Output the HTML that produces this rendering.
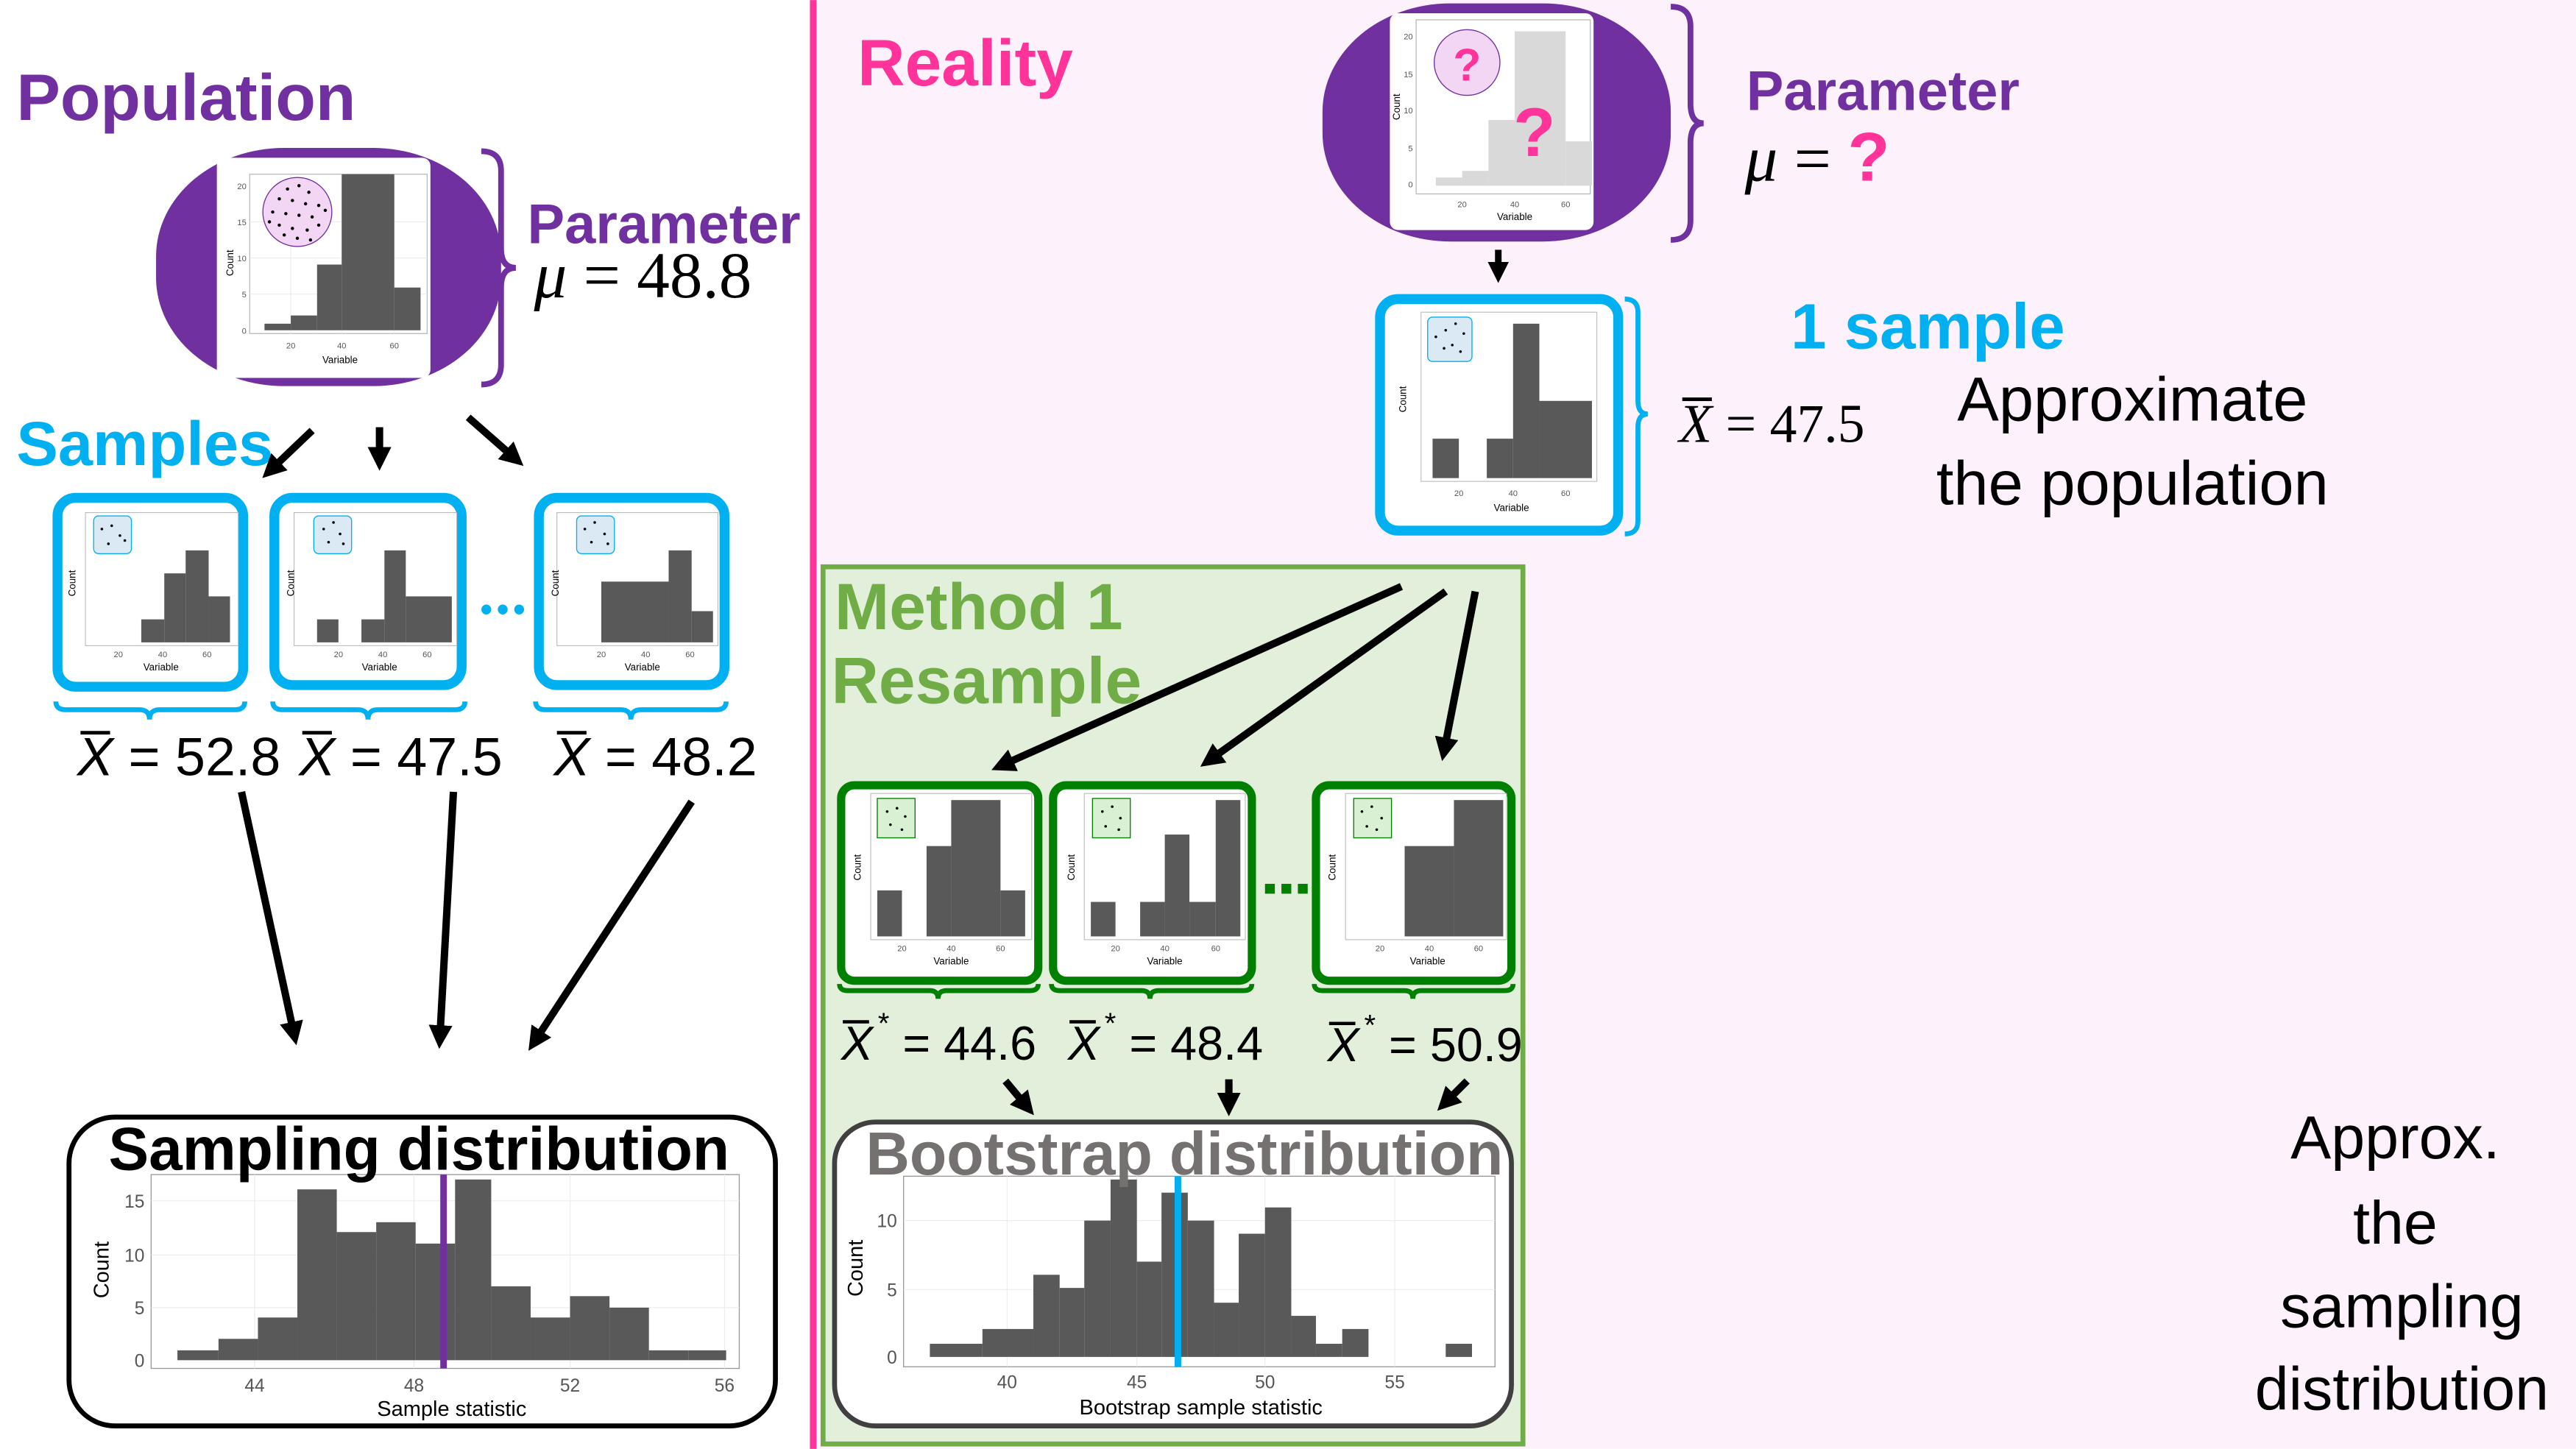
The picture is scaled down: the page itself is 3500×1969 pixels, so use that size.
<!DOCTYPE html>
<html><head><meta charset="utf-8"><style>
html,body{margin:0;padding:0;background:#fff}
svg{display:block}
text{font-family:"Liberation Sans",sans-serif}
.t{font-family:"Liberation Sans",sans-serif;font-weight:bold}
.m{font-family:"Liberation Serif",serif}
.ax{font-size:5px;fill:#555}
.axl{font-size:6px;fill:#000}
.bar{fill:#595959}
.grid{stroke:#ebebeb;stroke-width:0.5}
</style></head><body>
<svg width="3500" height="1969" viewBox="0 0 1568 882" xmlns="http://www.w3.org/2000/svg">
<defs>
<marker id="ah" viewBox="0 0 10 10" refX="2" refY="5" markerWidth="3.2" markerHeight="3.2" orient="auto"><path d="M0,0 L10,5 L0,10 z" fill="#000"/></marker>
</defs>
<rect x="0" y="0" width="1568" height="882" fill="#fff"/>
<rect x="495" y="0" width="1073" height="882" fill="#fdf2fc"/>
<rect x="493" y="0" width="4" height="882" fill="#ff3399"/>

<!-- LEFT -->
<text x="10" y="73" class="t" font-size="40" fill="#7030a0">Population</text>
<rect x="95" y="90" width="210" height="145" rx="78" ry="66" fill="#7030a0"/>
<rect x="132" y="96" width="130" height="134" rx="5" fill="#fff"/>
<rect x="152" y="106" width="108" height="97" fill="#fff" stroke="#bbb" stroke-width="0.6"/>
<g class="grid"><line x1="177" y1="106" x2="177" y2="203"/><line x1="208" y1="106" x2="208" y2="203"/><line x1="240" y1="106" x2="240" y2="203"/><line x1="152" y1="157" x2="260" y2="157"/><line x1="152" y1="135" x2="260" y2="135"/><line x1="152" y1="179" x2="260" y2="179"/></g>
<rect class="bar" x="161" y="197" width="16" height="4"/><rect class="bar" x="177" y="192" width="16" height="9"/><rect class="bar" x="193" y="161" width="15" height="40"/><rect class="bar" x="208" y="106" width="32" height="95"/><rect class="bar" x="240" y="175" width="16" height="26"/>
<circle cx="181" cy="129" r="21" fill="#f3d6f3" stroke="#7030a0" stroke-width="0.6"/>
<g fill="#000"><circle cx="175" cy="115" r="1"/><circle cx="182" cy="113" r="1"/><circle cx="188" cy="117" r="1"/><circle cx="170" cy="121" r="1"/><circle cx="178" cy="122" r="1"/><circle cx="186" cy="124" r="1"/><circle cx="194" cy="125" r="1"/><circle cx="166" cy="129" r="1"/><circle cx="174" cy="130" r="1"/><circle cx="182" cy="131" r="1"/><circle cx="190" cy="132" r="1"/><circle cx="198" cy="128" r="1"/><circle cx="170" cy="137" r="1"/><circle cx="178" cy="139" r="1"/><circle cx="187" cy="140" r="1"/><circle cx="194" cy="137" r="1"/><circle cx="181" cy="145" r="1"/><circle cx="173" cy="143" r="1"/><circle cx="189" cy="146" r="1"/><circle cx="164" cy="135" r="1"/></g>
<text x="142" y="160" class="axl" transform="rotate(-90 142 160)" text-anchor="middle">Count</text>
<text x="207" y="221" class="axl" text-anchor="middle">Variable</text>
<text x="177" y="212" class="ax" text-anchor="middle">20</text><text x="208" y="212" class="ax" text-anchor="middle">40</text><text x="240" y="212" class="ax" text-anchor="middle">60</text>
<g class="ax" text-anchor="end"><text x="150" y="203">0</text><text x="150" y="181">5</text><text x="150" y="159">10</text><text x="150" y="137">15</text><text x="150" y="115">20</text></g>
<path d="M293,92 Q305,92 305,104 L305,151 Q305,163 314,163 Q305,163 305,175 L305,222 Q305,234 293,234" fill="none" stroke="#7030a0" stroke-width="3.5"/>
<text x="321" y="148" class="t" font-size="34" fill="#7030a0">Parameter</text>
<text x="325" y="181" class="m" font-size="40"><tspan font-style="italic">μ</tspan> = 48.8</text>

<text x="10" y="283" class="t" font-size="38" fill="#00b0f0">Samples</text>
<g stroke="#000" stroke-width="4.5" marker-end="url(#ah)">
<line x1="190" y1="262" x2="168" y2="283"/><line x1="231" y1="260" x2="231" y2="275"/><line x1="285" y1="254" x2="310" y2="276"/>
<line x1="147" y1="482" x2="178" y2="625"/><line x1="276" y1="482" x2="268" y2="627"/><line x1="421" y1="488" x2="328" y2="630"/>
</g>

<!-- sample boxes -->
<g fill="#fff" stroke="#00b0f0" stroke-width="6"><rect x="35" y="303" width="113" height="115" rx="11"/><rect x="167" y="303" width="114" height="114" rx="11"/><rect x="328" y="303" width="113" height="114" rx="11"/></g>
<g fill="#fff" stroke="#bbb" stroke-width="0.5"><rect x="52" y="312" width="93" height="81"/><rect x="179" y="312" width="99" height="81"/><rect x="339" y="312" width="98" height="81"/></g>
<rect class="bar" x="86" y="377" width="14" height="14"/><rect class="bar" x="100" y="349" width="13" height="42"/><rect class="bar" x="113" y="335" width="14" height="56"/><rect class="bar" x="127" y="363" width="13" height="28"/>
<rect class="bar" x="193" y="377" width="13" height="14"/><rect class="bar" x="220" y="377" width="14" height="14"/><rect class="bar" x="234" y="335" width="13" height="56"/><rect class="bar" x="247" y="363" width="28" height="28"/>
<rect class="bar" x="366" y="354" width="41" height="37"/><rect class="bar" x="407" y="335" width="14" height="56"/><rect class="bar" x="421" y="372" width="13" height="19"/>
<g fill="#dbe9f5" stroke="#00b0f0" stroke-width="0.6"><rect x="57" y="314" width="23" height="23" rx="3"/><rect x="191" y="314" width="23" height="23" rx="3"/><rect x="351" y="314" width="23" height="23" rx="3"/></g>
<g fill="#000"><circle cx="62" cy="322" r="0.8"/><circle cx="68" cy="320" r="0.8"/><circle cx="73" cy="326" r="0.8"/><circle cx="66" cy="331" r="0.8"/><circle cx="76" cy="329" r="0.8"/><circle cx="197" cy="322" r="0.8"/><circle cx="203" cy="318" r="0.8"/><circle cx="207" cy="325" r="0.8"/><circle cx="200" cy="330" r="0.8"/><circle cx="209" cy="331" r="0.8"/><circle cx="356" cy="322" r="0.8"/><circle cx="362" cy="318" r="0.8"/><circle cx="368" cy="325" r="0.8"/><circle cx="360" cy="330" r="0.8"/><circle cx="370" cy="331" r="0.8"/></g>
<g class="ax" font-size="4" text-anchor="middle"><text x="72" y="400">20</text><text x="99" y="400">40</text><text x="126" y="400">60</text><text x="206" y="400">20</text><text x="233" y="400">40</text><text x="260" y="400">60</text><text x="366" y="400">20</text><text x="393" y="400">40</text><text x="420" y="400">60</text></g>
<g class="axl" font-size="5"><text x="98" y="408" text-anchor="middle">Variable</text><text x="231" y="408" text-anchor="middle">Variable</text><text x="391" y="408" text-anchor="middle">Variable</text>
<text x="46" y="355" transform="rotate(-90 46 355)" text-anchor="middle">Count</text><text x="179" y="355" transform="rotate(-90 179 355)" text-anchor="middle">Count</text><text x="340" y="355" transform="rotate(-90 340 355)" text-anchor="middle">Count</text></g>
<g fill="#00b0f0"><circle cx="296" cy="371" r="3"/><circle cx="306" cy="371" r="3"/><circle cx="316" cy="371" r="3"/></g>
<g fill="none" stroke="#00b0f0" stroke-width="3"><path d="M34,427 Q34,432 40,432 L85,432 Q91,432 91,438 Q91,432 97,432 L143,432 Q149,432 149,427"/><path d="M166,427 Q166,432 172,432 L218,432 Q224,432 224,438 Q224,432 230,432 L277,432 Q283,432 283,427"/><path d="M326,427 Q326,432 332,432 L378,432 Q384,432 384,438 Q384,432 390,432 L436,432 Q442,432 442,427"/></g>
<g class="m" font-size="33">
<text x="47" y="472"><tspan font-style="italic">X</tspan> = 52.8</text><line x1="49" y1="446" x2="67" y2="446" stroke="#000" stroke-width="2.2"/>
<text x="182" y="472"><tspan font-style="italic">X</tspan> = 47.5</text><line x1="184" y1="446" x2="202" y2="446" stroke="#000" stroke-width="2.2"/>
<text x="337" y="472"><tspan font-style="italic">X</tspan> = 48.2</text><line x1="339" y1="446" x2="357" y2="446" stroke="#000" stroke-width="2.2"/>
</g>

<!-- sampling distribution -->
<rect x="42" y="680" width="430" height="188" rx="28" fill="#fff" stroke="#000" stroke-width="3"/>
<rect x="92" y="715" width="358" height="118" fill="#fff" stroke="#999" stroke-width="0.6"/>
<g class="grid"><line x1="155" y1="715" x2="155" y2="833"/><line x1="252" y1="715" x2="252" y2="833"/><line x1="347" y1="715" x2="347" y2="833"/><line x1="441" y1="715" x2="441" y2="833"/><line x1="92" y1="796" x2="450" y2="796"/><line x1="92" y1="764" x2="450" y2="764"/><line x1="92" y1="731" x2="450" y2="731"/></g>
<g class="bar"><rect x="108" y="822" width="25" height="6"/><rect x="133" y="815" width="24" height="13"/><rect x="157" y="802" width="24" height="26"/><rect x="181" y="724" width="24" height="104"/><rect x="205" y="750" width="24" height="78"/><rect x="229" y="744" width="24" height="84"/><rect x="253" y="757" width="24" height="71"/><rect x="277" y="718" width="22" height="110"/><rect x="299" y="783" width="24" height="45"/><rect x="323" y="802" width="24" height="26"/><rect x="347" y="789" width="24" height="39"/><rect x="371" y="796" width="24" height="32"/><rect x="395" y="822" width="24" height="6"/><rect x="419" y="822" width="23" height="6"/></g>
<rect x="268" y="715" width="4" height="118" fill="#7030a0"/>
<text x="66" y="712" class="t" font-size="37" fill="#000" textLength="378" lengthAdjust="spacingAndGlyphs">Sampling distribution</text>
<g font-size="11" fill="#555" text-anchor="end"><text x="88" y="832">0</text><text x="88" y="800">5</text><text x="88" y="768">10</text><text x="88" y="735">15</text></g>
<g font-size="11" fill="#555" text-anchor="middle"><text x="155" y="847">44</text><text x="252" y="847">48</text><text x="347" y="847">52</text><text x="441" y="847">56</text></g>
<text x="275" y="862" font-size="13" text-anchor="middle">Sample statistic</text>
<text x="66" y="773" font-size="13" transform="rotate(-90 66 773)" text-anchor="middle">Count</text>

<!-- RIGHT -->
<text x="522" y="52" class="t" font-size="40" fill="#ff3399">Reality</text>
<rect x="805" y="2" width="212" height="145" rx="78" ry="66" fill="#7030a0"/>
<rect x="846" y="8" width="124" height="132" rx="5" fill="#fff"/>
<rect x="862" y="12" width="106" height="106" fill="#fff" stroke="#bbb" stroke-width="0.6"/>
<g fill="#d9d9d9"><rect x="874" y="108" width="16" height="5"/><rect x="890" y="104" width="16" height="9"/><rect x="906" y="73" width="16" height="40"/><rect x="922" y="19" width="31" height="94"/><rect x="953" y="86" width="16" height="27"/></g>
<circle cx="893" cy="38" r="20" fill="#f3d6f3" stroke="#7030a0" stroke-width="0.6"/>
<text x="893" y="49" class="t" font-size="28" fill="#ff3399" text-anchor="middle">?</text>
<text x="934" y="95" class="t" font-size="42" fill="#ff3399" text-anchor="middle">?</text>
<g class="ax" text-anchor="end"><text x="860" y="114">0</text><text x="860" y="92">5</text><text x="860" y="69">10</text><text x="860" y="47">15</text><text x="860" y="24">20</text></g>
<text x="852" y="65" class="axl" transform="rotate(-90 852 65)" text-anchor="middle">Count</text>
<text x="922" y="134" class="axl" text-anchor="middle">Variable</text>
<text x="890" y="126" class="ax" text-anchor="middle">20</text><text x="922" y="126" class="ax" text-anchor="middle">40</text><text x="953" y="126" class="ax" text-anchor="middle">60</text>
<path d="M1017,4 Q1029,4 1029,16 L1029,63 Q1029,75 1037,75 Q1029,75 1029,87 L1029,134 Q1029,146 1017,146" fill="none" stroke="#7030a0" stroke-width="3.5"/>
<text x="1063" y="67" class="t" font-size="34" fill="#7030a0">Parameter</text>
<text x="1062" y="110" class="m" font-size="40"><tspan font-style="italic">μ</tspan> = <tspan class="t" fill="#ff3399" font-size="42">?</tspan></text>
<line x1="912" y1="152" x2="912" y2="162" stroke="#000" stroke-width="4" marker-end="url(#ah)"/>

<rect x="840" y="182" width="145" height="141" rx="11" fill="#fff" stroke="#00b0f0" stroke-width="6"/>
<rect x="865" y="190" width="107" height="103" fill="#fff" stroke="#bbb" stroke-width="0.5"/>
<g class="bar"><rect x="872" y="267" width="16" height="24"/><rect x="905" y="267" width="16" height="24"/><rect x="921" y="197" width="16" height="94"/><rect x="937" y="244" width="32" height="47"/></g>
<rect x="869" y="193" width="27" height="27" rx="3" fill="#dbe9f5" stroke="#00b0f0" stroke-width="0.6"/>
<g fill="#000"><circle cx="874" cy="205" r="0.8"/><circle cx="880" cy="201" r="0.8"/><circle cx="886" cy="197" r="0.8"/><circle cx="891" cy="203" r="0.8"/><circle cx="884" cy="210" r="0.8"/><circle cx="889" cy="214" r="0.8"/><circle cx="879" cy="212" r="0.8"/></g>
<g class="ax" text-anchor="middle"><text x="888" y="302">20</text><text x="921" y="302">40</text><text x="953" y="302">60</text></g>
<text x="856" y="243" class="axl" transform="rotate(-90 856 243)" text-anchor="middle">Count</text>
<text x="920" y="311" class="axl" text-anchor="middle">Variable</text>
<path d="M989,182 Q997,182 997,190 L997,244 Q997,252 1003,252 Q997,252 997,260 L997,317 Q997,325 989,325" fill="none" stroke="#00b0f0" stroke-width="3"/>
<text x="1090" y="212" class="t" font-size="39" fill="#00b0f0">1 sample</text>
<text x="1022" y="269" class="m" font-size="33"><tspan font-style="italic">X</tspan> = 47.5</text>
<line x1="1024" y1="243" x2="1042" y2="243" stroke="#000" stroke-width="2.2"/>
<text x="1298" y="256" font-size="38" text-anchor="middle">Approximate</text>
<text x="1298" y="307" font-size="38" text-anchor="middle">the population</text>

<!-- Method 1 -->
<rect x="501" y="345" width="426" height="534" fill="#e2efda" stroke="#70ad47" stroke-width="3"/>
<text x="508" y="383" class="t" font-size="40" fill="#70ad47">Method 1</text>
<text x="506" y="428" class="t" font-size="40" fill="#70ad47">Resample</text>
<g stroke="#000" stroke-width="4.5" marker-end="url(#ah)">
<line x1="853" y1="357" x2="614" y2="464"/><line x1="880" y1="360" x2="740" y2="460"/><line x1="898" y1="360" x2="880" y2="452"/>
<line x1="612" y1="658" x2="622" y2="670"/><line x1="748" y1="657" x2="748" y2="668"/><line x1="893" y1="658" x2="883" y2="668"/>
</g>
<g fill="#fff" stroke="#008000" stroke-width="5"><rect x="512" y="478" width="120" height="119" rx="8"/><rect x="641" y="478" width="121" height="119" rx="8"/><rect x="801" y="478" width="119" height="119" rx="8"/></g>
<g fill="#fff" stroke="#bbb" stroke-width="0.5"><rect x="530" y="483" width="98" height="89"/><rect x="660" y="483" width="98" height="89"/><rect x="819" y="483" width="98" height="89"/></g>
<g class="bar">
<rect x="534" y="542" width="15" height="28"/><rect x="564" y="515" width="15" height="55"/><rect x="579" y="487" width="30" height="83"/><rect x="609" y="542" width="15" height="28"/>
<rect x="664" y="549" width="15" height="21"/><rect x="694" y="549" width="15" height="21"/><rect x="709" y="508" width="15" height="62"/><rect x="724" y="549" width="16" height="21"/><rect x="740" y="487" width="15" height="83"/>
<rect x="855" y="515" width="30" height="55"/><rect x="885" y="487" width="30" height="83"/></g>
<g fill="#d9f0d3" stroke="#008000" stroke-width="0.6"><rect x="534" y="486" width="23" height="24"/><rect x="665" y="486" width="23" height="24"/><rect x="824" y="486" width="23" height="24"/></g>
<g fill="#000"><circle cx="540" cy="494" r="0.8"/><circle cx="546" cy="492" r="0.8"/><circle cx="551" cy="497" r="0.8"/><circle cx="542" cy="502" r="0.8"/><circle cx="549" cy="505" r="0.8"/><circle cx="671" cy="494" r="0.8"/><circle cx="677" cy="491" r="0.8"/><circle cx="682" cy="498" r="0.8"/><circle cx="673" cy="503" r="0.8"/><circle cx="681" cy="505" r="0.8"/><circle cx="829" cy="494" r="0.8"/><circle cx="835" cy="491" r="0.8"/><circle cx="841" cy="498" r="0.8"/><circle cx="832" cy="503" r="0.8"/><circle cx="838" cy="505" r="0.8"/></g>
<g class="ax" font-size="4" text-anchor="middle"><text x="549" y="579">20</text><text x="579" y="579">40</text><text x="609" y="579">60</text><text x="679" y="579">20</text><text x="709" y="579">40</text><text x="740" y="579">60</text><text x="840" y="579">20</text><text x="870" y="579">40</text><text x="900" y="579">60</text></g>
<g class="axl" font-size="5"><text x="579" y="587" text-anchor="middle">Variable</text><text x="709" y="587" text-anchor="middle">Variable</text><text x="869" y="587" text-anchor="middle">Variable</text>
<text x="524" y="528" transform="rotate(-90 524 528)" text-anchor="middle">Count</text><text x="654" y="528" transform="rotate(-90 654 528)" text-anchor="middle">Count</text><text x="813" y="528" transform="rotate(-90 813 528)" text-anchor="middle">Count</text></g>
<g fill="#008000"><rect x="770" y="538" width="6" height="6"/><rect x="780" y="538" width="6" height="6"/><rect x="790" y="538" width="6" height="6"/></g>
<g fill="none" stroke="#008000" stroke-width="3"><path d="M511,599 Q511,603 516,603 L566,603 Q571,603 571,608 Q571,603 576,603 L627,603 Q632,603 632,599"/><path d="M640,599 Q640,603 645,603 L695,603 Q700,603 700,608 Q700,603 705,603 L757,603 Q762,603 762,599"/><path d="M800,599 Q800,603 805,603 L855,603 Q860,603 860,608 Q860,603 865,603 L916,603 Q921,603 921,599"/></g>
<g class="m" font-size="29">
<text x="512" y="645"><tspan font-style="italic">X</tspan><tspan dx="3" dy="-16" font-size="18">*</tspan><tspan dy="16"> = 44.6</tspan></text><line x1="513" y1="622" x2="529" y2="622" stroke="#000" stroke-width="2"/>
<text x="650" y="645"><tspan font-style="italic">X</tspan><tspan dx="3" dy="-16" font-size="18">*</tspan><tspan dy="16"> = 48.4</tspan></text><line x1="651" y1="622" x2="667" y2="622" stroke="#000" stroke-width="2"/>
<text x="808" y="646"><tspan font-style="italic">X</tspan><tspan dx="3" dy="-16" font-size="18">*</tspan><tspan dy="16"> = 50.9</tspan></text><line x1="809" y1="623" x2="825" y2="623" stroke="#000" stroke-width="2"/>
</g>

<rect x="508" y="683" width="412" height="185" rx="25" fill="#fff" stroke="#404040" stroke-width="3"/>
<rect x="550" y="716" width="360" height="116" fill="#fff" stroke="#999" stroke-width="0.6"/>
<g class="grid"><line x1="613" y1="716" x2="613" y2="832"/><line x1="692" y1="716" x2="692" y2="832"/><line x1="770" y1="716" x2="770" y2="832"/><line x1="849" y1="716" x2="849" y2="832"/><line x1="550" y1="785" x2="910" y2="785"/><line x1="550" y1="743" x2="910" y2="743"/></g>
<g class="bar"><rect x="566" y="818" width="32" height="8"/><rect x="598" y="809" width="31" height="17"/><rect x="629" y="776" width="16" height="50"/><rect x="645" y="784" width="15" height="42"/><rect x="660" y="743" width="16" height="83"/><rect x="676" y="718" width="16" height="108"/><rect x="692" y="768" width="15" height="58"/><rect x="707" y="726" width="16" height="100"/><rect x="723" y="743" width="16" height="83"/><rect x="739" y="793" width="15" height="33"/><rect x="754" y="751" width="16" height="75"/><rect x="770" y="735" width="16" height="91"/><rect x="786" y="801" width="15" height="25"/><rect x="801" y="818" width="16" height="8"/><rect x="817" y="809" width="16" height="17"/><rect x="880" y="818" width="16" height="8"/></g>
<rect x="715" y="716" width="4" height="116" fill="#00b0f0"/>
<text x="527" y="715" class="t" font-size="37" fill="#767171" textLength="388" lengthAdjust="spacingAndGlyphs">Bootstrap distribution</text>
<g font-size="11" fill="#555" text-anchor="end"><text x="546" y="830">0</text><text x="546" y="789">5</text><text x="546" y="747">10</text></g>
<g font-size="11" fill="#555" text-anchor="middle"><text x="613" y="845">40</text><text x="692" y="845">45</text><text x="770" y="845">50</text><text x="849" y="845">55</text></g>
<text x="731" y="861" font-size="13" text-anchor="middle">Bootstrap sample statistic</text>
<text x="525" y="772" font-size="13" transform="rotate(-90 525 772)" text-anchor="middle">Count</text>

<g font-size="37" text-anchor="middle"><text x="1458" y="705">Approx.</text><text x="1458" y="757">the</text><text x="1462" y="808">sampling</text><text x="1462" y="858">distribution</text></g>
</svg>
</body></html>
